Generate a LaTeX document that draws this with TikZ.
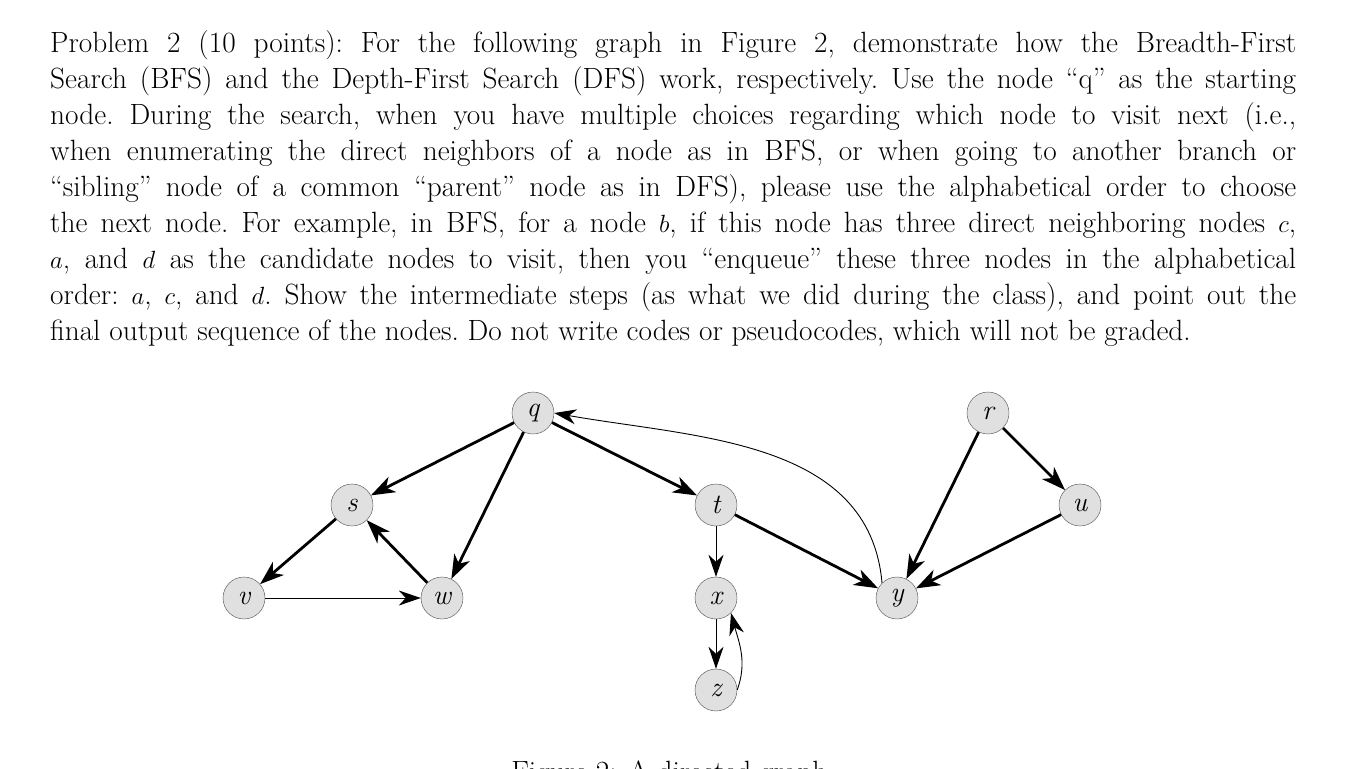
\documentclass[tikz,border=0pt]{standalone}
\usetikzlibrary{arrows.meta}
\begin{document}
\begin{tikzpicture}[x=1pt,y=-1pt,
  vert/.style={circle,draw=black!70,fill=black!12,minimum size=42pt,inner sep=0pt,font=\fontsize{28}{28}\selectfont\itshape},
  thk/.style={line width=2.8pt,-{Stealth[length=24pt,width=17pt,inset=7pt]}},
  thn/.style={line width=0.9pt,-{Stealth[length=22pt,width=15pt,inset=7pt]}}]
\useasboundingbox (0,0) rectangle (1346,768);
\node[anchor=north west,inner sep=0pt,text width=1246pt,align=justify,font=\fontsize{29.3}{36}\selectfont\frenchspacing] (txt) at (50,30) {%
Problem 2 (10 points): For the following graph in Figure 2, demonstrate how the Breadth-First\linebreak
Search (BFS) and the Depth-First Search (DFS) work, respectively. Use the node ``q'' as the starting\linebreak
node. During the search, when you have multiple choices regarding which node to visit next (i.e.,\linebreak
when enumerating the direct neighbors of a node as in BFS, or when going to another branch or\linebreak
``sibling'' node of a common ``parent'' node as in DFS), please use the alphabetical order to choose\linebreak
the next node. For example, in BFS, for a node $b$, if this node has three direct neighboring nodes $c$,\linebreak
$a$, and $d$ as the candidate nodes to visit, then you ``enqueue'' these three nodes in the alphabetical\linebreak
order: $a$, $c$, and $d$. Show the intermediate steps (as what we did during the class), and point out the\linebreak
final output sequence of the nodes. Do not write codes or pseudocodes, which will not be graded.};
\node[vert] (q) at (533,413) {q};
\node[vert] (r) at (988,413) {r};
\node[vert] (s) at (352,505) {s};
\node[vert] (t) at (716,505) {t};
\node[vert] (u) at (1080,505) {u};
\node[vert] (v) at (244,598) {v};
\node[vert] (w) at (442,598) {w};
\node[vert] (x) at (716,598) {x};
\node[vert] (y) at (897,598) {y};
\node[vert] (z) at (716,690) {z};
\node[font=\fontsize{29.3}{36}\selectfont,anchor=north] (cap) at (673,757) {Figure 2: A directed graph.};
\draw[thk] (q) -- (s);
\draw[thk] (q) -- (w);
\draw[thk] (q) -- (t);
\draw[thk] (t) -- (y);
\draw[thk] (s) -- (v);
\draw[thk] (w) -- (s);
\draw[thk] (r) -- (y);
\draw[thk] (r) -- (u);
\draw[thk] (u) -- (y);
\draw[thn] (v) -- (w);
\draw[thn] (t) -- (x);
\draw[thn] (x) -- (z);
\draw[thn] (y.north west) to[out=95,in=-10] (q.east);
\draw[thn] (z.east) to[out=70,in=-75] (x.south east);
\end{tikzpicture}
\end{document}
